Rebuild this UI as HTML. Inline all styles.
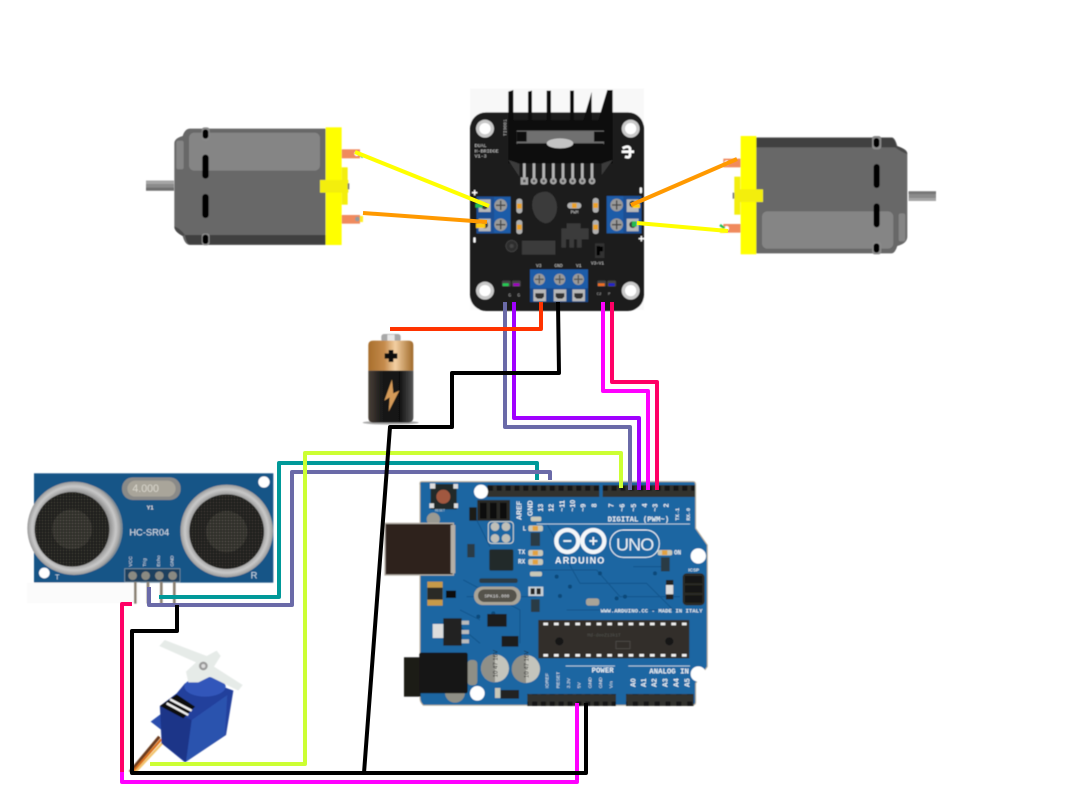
<!DOCTYPE html>
<html><head><meta charset="utf-8"><style>
html,body{margin:0;padding:0;background:#fff;width:1066px;height:800px;overflow:hidden}
svg{display:block}
text{font-family:"Liberation Sans",sans-serif}
.m{font-family:"Liberation Mono",monospace}
</style></head><body>
<svg width="1066" height="800" viewBox="0 0 1066 800" xmlns="http://www.w3.org/2000/svg">
<defs>
<filter id="b" x="-5%" y="-5%" width="110%" height="110%"><feGaussianBlur stdDeviation="1.5"/></filter>
<pattern id="mesh" width="9" height="9" patternUnits="userSpaceOnUse"><rect width="9" height="9" fill="#1c1c1a"/><circle cx="4.5" cy="4.5" r="2.6" fill="#3e3c36"/></pattern>
<pattern id="mesh2" width="9" height="9" patternUnits="userSpaceOnUse"><rect width="9" height="9" fill="#2a2926"/><circle cx="4.5" cy="4.5" r="2.6" fill="#55524a"/></pattern>
<pattern id="hdr" width="26.5" height="36" patternUnits="userSpaceOnUse"><rect width="26.5" height="36" fill="#33332e"/><rect x="6" y="11" width="15" height="15" fill="#151513"/></pattern>
<pattern id="hdr2" width="32.6" height="36" patternUnits="userSpaceOnUse"><rect width="32.6" height="36" fill="#33332e"/><rect x="9" y="11" width="15" height="15" fill="#151513"/></pattern>
<linearGradient id="cu" x1="0" x2="1" y1="0" y2="0"><stop offset="0" stop-color="#a86f2c"/><stop offset=".35" stop-color="#c48a4c"/><stop offset=".6" stop-color="#f3cfa2"/><stop offset="1" stop-color="#a06a2a"/></linearGradient>
<linearGradient id="bk" x1="0" x2="1" y1="0" y2="0"><stop offset="0" stop-color="#4a4038"/><stop offset=".3" stop-color="#1a1a1a"/><stop offset=".7" stop-color="#111"/><stop offset="1" stop-color="#555"/></linearGradient>
<radialGradient id="ring"><stop offset=".75" stop-color="#8a8a8a"/><stop offset=".9" stop-color="#c9c9c9"/><stop offset="1" stop-color="#9a9a9a"/></radialGradient>
</defs>

<!-- LEFT MOTOR -->
<g transform="translate(140,120) scale(.3333)" filter="url(#b)">
<rect x="18" y="182" width="84" height="30" fill="#8b8b8b"/><rect x="18" y="182" width="84" height="10" fill="#a5a5a5"/><rect x="18" y="203" width="84" height="9" fill="#6e6e6e"/>
<path d="M150 26H557V375H150Q135 375 128 348Q103 335 103 320V70Q103 55 128 48Q135 26 150 26Z" fill="#676767"/>
<path d="M135 345H557V373H150Q140 373 135 345Z" fill="#3f3f3f"/>
<path d="M103 320Q120 325 135 345L128 348Q103 335 103 320Z" fill="#4a4a4a"/>
<rect x="147" y="38" width="393" height="114" rx="16" fill="#858585"/>
<rect x="109" y="62" width="22" height="86" rx="6" fill="#858585"/>
<rect x="185" y="22" width="24" height="40" rx="8" fill="#8a8a8a"/><rect x="188" y="28" width="17" height="28" rx="8" fill="#000"/>
<rect x="185" y="340" width="24" height="36" rx="8" fill="#8a8a8a"/><rect x="188" y="344" width="17" height="28" rx="8" fill="#000"/>
<rect x="187" y="104" width="19" height="72" rx="9" fill="#000"/><rect x="187" y="222" width="19" height="72" rx="9" fill="#000"/>
<rect x="605" y="88" width="55" height="27" fill="#f08a5d"/><rect x="605" y="285" width="55" height="26" fill="#f08a5d"/>
<circle cx="650" cy="101" r="7" fill="#fff"/><circle cx="652" cy="297" r="7" fill="#999"/>
<rect x="660" y="288" width="9" height="18" fill="#ffee22"/>
<path d="M650 96L668 113" stroke="#22bb55" stroke-width="4"/>
<rect x="557" y="22" width="48" height="353" fill="#ffff00"/>
<rect x="540" y="180" width="85" height="38" fill="#f3ee10"/>
<rect x="605" y="142" width="18" height="112" fill="#f3ee10"/>
<rect x="623" y="190" width="5" height="18" fill="#777"/>
</g>

<!-- RIGHT MOTOR -->
<g transform="translate(720,130) scale(.3333)" filter="url(#b)">
<rect x="566" y="184" width="82" height="29" fill="#8b8b8b"/><rect x="566" y="184" width="82" height="8" fill="#767676"/><rect x="566" y="204" width="82" height="9" fill="#a5a5a5"/>
<path d="M108 22H515Q525 22 532 48Q562 58 562 70V320Q562 340 532 348Q525 370 515 370H108Z" fill="#676767"/>
<path d="M108 24H515Q525 26 530 52H108Z" fill="#3f3f3f"/>
<path d="M530 48Q560 58 562 72Q545 66 525 52Z" fill="#4a4a4a"/>
<rect x="126" y="244" width="394" height="112" rx="16" fill="#858585"/>
<rect x="536" y="250" width="20" height="84" rx="6" fill="#858585"/>
<rect x="456" y="18" width="28" height="40" rx="8" fill="#8a8a8a"/><rect x="461" y="24" width="17" height="28" rx="8" fill="#000"/>
<rect x="456" y="335" width="28" height="38" rx="8" fill="#8a8a8a"/><rect x="461" y="340" width="17" height="28" rx="8" fill="#000"/>
<rect x="461" y="102" width="18" height="72" rx="9" fill="#000"/><rect x="461" y="220" width="18" height="72" rx="9" fill="#000"/>
<rect x="10" y="86" width="52" height="26" fill="#f08a5d"/><rect x="10" y="282" width="52" height="26" fill="#f08a5d"/>
<circle cx="20" cy="98" r="7" fill="#fff"/><circle cx="20" cy="295" r="7" fill="#fff"/>
<path d="M0 285L14 295" stroke="#22bb55" stroke-width="7"/><rect x="0" y="295" width="14" height="14" fill="#ffee22"/>
<rect x="62" y="18" width="47" height="355" fill="#ffff00"/>
<rect x="45" y="178" width="84" height="38" fill="#f3ee10"/>
<rect x="43" y="140" width="18" height="114" fill="#f3ee10"/>
<rect x="38" y="188" width="5" height="18" fill="#777"/>
</g>

<!-- L298N -->
<g transform="translate(460,80) scale(.3333)" filter="url(#b)">
<rect x="30" y="26" width="522" height="664" fill="#f8f8f8"/>
<rect x="30" y="97" width="522" height="596" rx="48" fill="#1e1e1e"/>
<rect x="145" y="120" width="312" height="30" fill="#0a0a0a"/>
<path d="M145 35L160 30V120H145ZM204 35L216 32V120H204ZM260 32H273V120H260ZM330 32H342V120H330ZM370 120L395 36V120ZM415 120L442 30H458V120Z" fill="#0c0c0c"/>
<path d="M145 120H172V250H145ZM430 120H458V250H430Z" fill="#0a0a0a"/>
<path d="M145 240L178 290V250ZM458 240L425 285V250Z" fill="#3b3b3b"/>
<rect x="170" y="152" width="262" height="40" fill="#707070"/>
<rect x="172" y="190" width="258" height="60" fill="#0c0c0c"/>
<ellipse cx="300" cy="190" rx="40" ry="15" fill="#c4c4c4"/>
<path d="M170 155h30v30h-30zM402 155h30v30h-30z" fill="#111"/>
<g stroke="#b5b5b5" stroke-width="8" fill="none"><path d="M193 250V300M222 250V300M251 250V300M280 250V300M309 250V300M338 250V300M367 250V300M396 250V300"/></g>
<g fill="#a6a6a6"><rect x="182" y="292" width="22" height="22"/><circle cx="222" cy="303" r="10"/><circle cx="251" cy="303" r="10"/><circle cx="280" cy="303" r="10"/><circle cx="309" cy="303" r="10"/><circle cx="338" cy="303" r="10"/><circle cx="367" cy="303" r="10"/><circle cx="396" cy="303" r="10"/></g>
<g fill="#555" ><circle cx="222" cy="303" r="4"/><circle cx="251" cy="303" r="4"/><circle cx="280" cy="303" r="4"/><circle cx="309" cy="303" r="4"/><circle cx="338" cy="303" r="4"/><circle cx="367" cy="303" r="4"/><circle cx="396" cy="303" r="4"/><rect x="189" y="299" width="8" height="8"/></g>
<g fill="#c9c9c9"><circle cx="75" cy="146" r="27"/><circle cx="512" cy="146" r="27"/><circle cx="75" cy="632" r="27"/><circle cx="512" cy="632" r="27"/></g>
<g fill="#fff"><circle cx="75" cy="146" r="17"/><circle cx="512" cy="146" r="17"/><circle cx="75" cy="632" r="17"/><circle cx="512" cy="632" r="17"/></g>
<text class="m" x="44" y="201" font-size="15" fill="#ccc">DUAL</text><text class="m" x="44" y="217" font-size="15" fill="#ccc">H-BRIDGE</text><text class="m" x="44" y="233" font-size="15" fill="#ccc">V1-3</text>
<text class="m" transform="translate(139,168) rotate(-90)" font-size="14" fill="#bbb">TI9001</text>
<path d="M488 205Q505 195 510 205V225Q510 235 495 230M485 215H522" stroke="#fff" stroke-width="8" fill="none"/>
<path d="M256 335A34 46 0 0 1 256 430A48 48 0 0 1 222 400A60 60 0 0 1 222 350Q235 335 256 335Z" fill="#3b3b3b"/>
<rect x="322" y="368" width="42" height="18" rx="9" fill="#b0b0b0"/><rect x="336" y="370" width="14" height="14" fill="#eba227"/>
<text class="m" x="332" y="400" font-size="13" fill="#ccc">PWM</text>
<g fill="#b0b0b0"><rect x="169" y="356" width="18" height="44" rx="8"/><rect x="169" y="420" width="18" height="42" rx="8"/><rect x="398" y="354" width="18" height="44" rx="8"/><rect x="398" y="420" width="18" height="42" rx="8"/></g>
<g fill="#eba227"><rect x="171" y="371" width="14" height="15"/><rect x="171" y="434" width="14" height="15"/><rect x="400" y="369" width="14" height="15"/><rect x="400" y="434" width="14" height="15"/></g>
<path d="M320 445V430H362V445H386V478H365V503H351V478H342V503H328V478H318V503H304V445Z" fill="#3b3b3b"/>
<rect x="186" y="482" width="100" height="42" fill="#3b3b3b"/>
<circle cx="155" cy="498" r="17" fill="#2d2d2d" stroke="#3f3f3f" stroke-width="3"/><circle cx="155" cy="498" r="6" fill="#444"/>
<rect x="405" y="490" width="28" height="44" fill="#333"/><rect x="410" y="498" width="10" height="28" fill="#000"/><rect x="420" y="500" width="9" height="14" fill="#000"/>
<text class="m" x="393" y="554" font-size="13" fill="#ccc">V3=V1</text>
<!-- left terminal -->
<rect x="50" y="350" width="102" height="110" fill="#1d5ba8"/><rect x="50" y="350" width="52" height="110" fill="#1a4f94"/>
<rect x="56" y="358" width="36" height="38" fill="#b8b8b8"/><rect x="56" y="416" width="36" height="38" fill="#b8b8b8"/>
<circle cx="74" cy="378" r="10" fill="#3a3a3a"/><circle cx="74" cy="435" r="10" fill="#3a3a3a"/>
<circle cx="122" cy="376" r="19" fill="#9a9a9a"/><circle cx="122" cy="434" r="19" fill="#9a9a9a"/>
<path d="M122 362V390M108 376H136M122 420V448M108 434H136" stroke="#444" stroke-width="4"/>
<rect x="46" y="371" width="22" height="12" fill="#22bb55"/><rect x="48" y="430" width="28" height="14" fill="#ffcc11"/>
<!-- right terminal -->
<rect x="440" y="348" width="104" height="112" fill="#1d5ba8"/><rect x="490" y="348" width="54" height="112" fill="#1a4f94"/>
<rect x="500" y="358" width="36" height="38" fill="#b8b8b8"/><rect x="500" y="416" width="36" height="38" fill="#b8b8b8"/>
<circle cx="518" cy="372" r="10" fill="#3a3a3a"/><circle cx="518" cy="434" r="10" fill="#3a3a3a"/>
<circle cx="470" cy="375" r="19" fill="#9a9a9a"/><circle cx="470" cy="434" r="19" fill="#9a9a9a"/>
<path d="M470 361V389M456 375H484M470 420V448M456 434H484" stroke="#444" stroke-width="4"/>
<rect x="518" y="372" width="22" height="12" fill="#ffcc11"/><rect x="516" y="424" width="14" height="16" fill="#22bb55"/>
<path d="M36 338H52M44 330V346M536 476H552M544 468V484" stroke="#fff" stroke-width="4"/>
<rect x="40" y="472" width="7" height="16" rx="3" fill="#fff"/><rect x="539" y="322" width="7" height="18" rx="3" fill="#fff"/>
<!-- bottom terminal -->
<rect x="210" y="568" width="174" height="98" fill="#1d5ba8"/><rect x="210" y="625" width="174" height="41" fill="#18498a"/>
<g fill="#9a9a9a"><circle cx="238" cy="598" r="17"/><circle cx="299" cy="598" r="17"/><circle cx="355" cy="598" r="17"/></g>
<path d="M238 585V611M225 598H251M299 585V611M286 598H312M355 585V611M342 598H368" stroke="#555" stroke-width="4"/>
<g fill="#b8b8b8"><rect x="220" y="628" width="38" height="36"/><rect x="281" y="628" width="38" height="36"/><rect x="337" y="628" width="38" height="36"/></g>
<g fill="#333"><path d="M226 650V640H252V650L246 656H232Z"/><path d="M287 650V640H313V650L307 656H293Z"/><path d="M343 650V640H369V650L363 656H349Z"/></g>
<text class="m" x="228" y="561" font-size="14" fill="#ccc">V3</text><text class="m" x="283" y="561" font-size="14" fill="#ccc">GND</text><text class="m" x="348" y="561" font-size="14" fill="#ccc">V1</text>
<g fill="#444"><rect x="126" y="602" width="26" height="18" rx="3"/><rect x="156" y="602" width="26" height="18" rx="3"/><rect x="412" y="602" width="26" height="18" rx="3"/><rect x="442" y="602" width="26" height="18" rx="3"/></g>
<rect x="128" y="610" width="18" height="8" fill="#22cc55"/><rect x="160" y="610" width="18" height="8" fill="#a000c0"/><rect x="414" y="610" width="20" height="8" fill="#f07020"/><rect x="446" y="610" width="18" height="8" fill="#2222cc"/>
<text class="m" x="145" y="650" font-size="14" fill="#aaa">G</text><text class="m" x="172" y="650" font-size="14" fill="#aaa">G</text><text class="m" x="410" y="645" font-size="12" fill="#aaa">C2</text><text class="m" x="444" y="645" font-size="12" fill="#aaa">P</text>
</g>

<!-- BATTERY -->
<g transform="translate(350,310) scale(.3333)" filter="url(#b)">
<ellipse cx="122" cy="338" rx="84" ry="6" fill="#aaa"/>
<rect x="94" y="72" width="58" height="24" rx="8" fill="#a8a8a8"/><rect x="112" y="74" width="22" height="20" fill="#e8e8e8"/>
<path d="M55 182V105Q55 92 70 92H175Q190 92 190 105V182Z" fill="url(#cu)"/>
<path d="M55 182H190V322Q190 338 172 338H72Q55 338 55 322Z" fill="url(#bk)"/>
<path d="M116 120H130V130H142V146H130V156H116V146H104V130H116Z" fill="#111"/>
<path d="M126 208L103 272L119 262L116 305L148 242L130 250Z" fill="#d49a58"/>
</g>

<!-- ULTRASONIC + SERVO -->
<g transform="translate(20,450) scale(.3333)" filter="url(#b)">
<rect x="42" y="70" width="718" height="328" fill="#175487"/>
<rect x="20" y="398" width="340" height="62" fill="#fbfbfb"/>
<rect x="306" y="82" width="176" height="68" rx="32" fill="#8a8a88"/><rect x="322" y="92" width="145" height="48" rx="24" fill="#a9a59a"/>
<text x="337" y="126" font-size="32" fill="#d9d6cc">4.000</text>
<text x="380" y="178" font-size="17" font-weight="bold" fill="#e4e4e4">Y1</text>
<text x="328" y="257" font-size="28" fill="#d7e1ea">HC-SR04</text>
<ellipse cx="178" cy="235" rx="130" ry="135" fill="#7f8c96"/>
<circle cx="162" cy="235" r="140" fill="url(#ring)"/><circle cx="156" cy="238" r="112" fill="url(#mesh)"/><circle cx="156" cy="238" r="60" fill="url(#mesh2)"/>
<circle cx="620" cy="243" r="139" fill="url(#ring)"/><circle cx="620" cy="245" r="112" fill="url(#mesh)"/><circle cx="620" cy="245" r="62" fill="url(#mesh2)"/>
<circle cx="73" cy="369" r="16" fill="#fff"/><circle cx="732" cy="96" r="17" fill="#fff"/>
<text x="692" y="386" font-size="28" fill="#c9d8e4">R</text>
<text x="105" y="388" font-size="22" fill="#c9d8e4">T</text>
<rect x="314" y="356" width="166" height="40" fill="#1b3f5e" stroke="#8da0ad" stroke-width="2"/>
<g fill="#8a8a82"><circle cx="338" cy="377" r="13"/><circle cx="377" cy="377" r="13"/><circle cx="418" cy="377" r="13"/><circle cx="458" cy="377" r="13"/></g>
<g fill="#8a8072"><rect x="342" y="396" width="8" height="65"/><rect x="380" y="396" width="8" height="65"/><rect x="420" y="396" width="8" height="65"/><rect x="459" y="396" width="8" height="65"/></g>
<g font-size="15" fill="#dfe6ec"><text transform="translate(336,350) rotate(-90)">VCC</text><text transform="translate(378,350) rotate(-90)">Trig</text><text transform="translate(420,350) rotate(-90)">Echo</text><text transform="translate(461,350) rotate(-90)">GND</text></g>
<!-- servo -->
<path d="M330 966L418 860" stroke="#6b3a1a" stroke-width="9"/><path d="M338 966L424 868" stroke="#d9701a" stroke-width="7"/><path d="M346 966L430 876" stroke="#f2c36b" stroke-width="7"/>
<path d="M392 815L425 790L480 830L450 860Z" fill="#2a4ead"/>
<path d="M420 768L470 730L495 700L555 690L640 722L618 855L495 937L425 880Z" fill="#243f9c"/>
<path d="M420 768L515 810L498 935L425 880Z" fill="#1c3488"/>
<path d="M515 810L622 735L615 855L498 935Z" fill="#2c52ae"/>
<path d="M420 768L470 733L525 770L490 805Z" fill="#111"/>
<path d="M450 748L515 782M440 760L505 795" stroke="#f0f0f0" stroke-width="7"/>
<ellipse cx="555" cy="710" rx="62" ry="30" fill="#3257ba"/>
<path d="M418 588L434 570L560 618L590 602L602 618L582 650L668 705L655 722L570 680L535 697H505L498 665L528 637Z" fill="#e6ebe8"/>
<circle cx="550" cy="648" r="13" fill="#999"/><circle cx="550" cy="648" r="6" fill="#ddd"/>
</g>

<!-- ARDUINO -->
<g transform="translate(380,470) scale(.3333)" filter="url(#b)">
<path d="M125 35H940Q947 35 947 45V175L982 225V590L947 640V697Q947 706 935 706H130Q120 697 120 685V45Q118 35 125 35Z" fill="#1a66a2" stroke="#bdb49f" stroke-width="3"/>
<g stroke="#14558c" stroke-width="3" fill="none"><path d="M250 330L420 420V520M260 380L470 380M600 340H800L880 420M240 420L300 450M470 300H650L720 380H900M280 130L330 230M500 160L600 340M760 290L850 290"/><path d="M240 470L300 520M560 420H900"/></g>
<g fill="#0e4a7a"><circle cx="530" cy="320" r="6"/><circle cx="570" cy="350" r="6"/><circle cx="660" cy="310" r="6"/><circle cx="710" cy="385" r="6"/><circle cx="825" cy="310" r="6"/><circle cx="340" cy="430" r="6"/><circle cx="540" cy="378" r="6"/><circle cx="295" cy="440" r="6"/><circle cx="735" cy="380" r="6"/></g>
<rect x="322" y="45" width="336" height="36" fill="url(#hdr)"/><rect x="668" y="45" width="277" height="36" fill="url(#hdr)"/>
<rect x="442" y="672" width="266" height="36" fill="url(#hdr)"/><rect x="738" y="672" width="203" height="36" fill="url(#hdr2)"/>
<rect x="152" y="42" width="78" height="76" fill="#23292c"/><circle cx="190" cy="80" r="21" fill="#a1583f"/>
<rect x="150" y="40" width="16" height="16" fill="#ddd"/><rect x="220" y="42" width="14" height="14" fill="#ddd"/><rect x="148" y="100" width="14" height="14" fill="#ddd"/><rect x="222" y="100" width="12" height="14" fill="#ddd"/>
<text class="m" x="165" y="124" font-size="10" fill="#ddd">RESET</text>
<rect x="292" y="90" width="98" height="62" fill="#2c2c28"/><g fill="#111"><rect x="300" y="98" width="20" height="48"/><rect x="330" y="98" width="20" height="48"/><rect x="360" y="98" width="20" height="48"/></g>
<rect x="268" y="112" width="22" height="40" fill="#1a1a18"/>
<g fill="#bfbfb8"><circle cx="345" cy="170" r="13"/><circle cx="378" cy="170" r="13"/><circle cx="345" cy="205" r="13"/><circle cx="378" cy="205" r="13"/></g>
<rect x="325" y="155" width="75" height="65" rx="10" fill="none" stroke="#d8d8d0" stroke-width="3"/>
<circle cx="303" cy="65" r="21" fill="#fff"/><circle cx="955" cy="258" r="23" fill="#fff"/><circle cx="955" cy="612" r="23" fill="#fff"/><circle cx="292" cy="670" r="22" fill="#fff"/>
<circle cx="160" cy="148" r="20" fill="#9a9a92"/>
<rect x="15" y="160" width="205" height="155" fill="#2d221e" stroke="#b5afa6" stroke-width="4"/><rect x="212" y="165" width="14" height="145" fill="#b5afa6"/>
<circle cx="225" cy="668" r="30" fill="#8f8f86"/>
<rect x="262" y="570" width="30" height="76" rx="12" fill="#8f8f86"/>
<rect x="72" y="562" width="50" height="118" fill="#1e1c18"/><rect x="118" y="548" width="145" height="122" rx="6" fill="#151512"/>
<rect x="142" y="335" width="46" height="72" fill="#c79a4a"/><rect x="142" y="353" width="46" height="36" fill="#2c2c28"/>
<rect x="198" y="362" width="30" height="22" fill="#111"/>
<rect x="190" y="445" width="55" height="82" fill="#222"/><rect x="158" y="462" width="32" height="42" fill="#ddd"/><rect x="245" y="452" width="22" height="12" fill="#bbb"/><rect x="245" y="480" width="22" height="12" fill="#bbb"/><rect x="245" y="508" width="22" height="12" fill="#bbb"/>
<rect x="328" y="238" width="72" height="64" rx="5" fill="#22292c"/>
<rect x="282" y="350" width="140" height="55" rx="26" fill="#a9a498"/><rect x="294" y="358" width="116" height="38" rx="19" fill="#55524c"/>
<text class="m" x="313" y="383" font-size="14" fill="#ddd">SPK16.000</text>
<rect x="298" y="325" width="115" height="14" rx="6" fill="#2b3a45"/>
<rect x="445" y="350" width="45" height="28" fill="#ddd" opacity=".9"/><rect x="452" y="355" width="12" height="18" fill="#222"/><rect x="470" y="355" width="12" height="18" fill="#222"/>
<rect x="618" y="385" width="40" height="22" rx="8" fill="#a9a498"/>
<rect x="322" y="432" width="58" height="38" fill="#1a1a1a"/>
<rect x="365" y="498" width="50" height="32" fill="#1a1a1a"/>
<rect x="858" y="330" width="22" height="58" fill="#222"/><rect x="858" y="345" width="22" height="28" fill="#ddd"/>
<g fill="#c9c8b8"><rect x="445" y="166" width="44" height="18" rx="6"/><rect x="445" y="240" width="44" height="18" rx="6"/><rect x="445" y="267" width="44" height="18" rx="6"/><rect x="833" y="240" width="44" height="16" rx="6"/><rect x="452" y="140" width="32" height="14" rx="5"/><rect x="450" y="305" width="36" height="14" rx="5"/></g>
<g fill="#e2a240"><rect x="458" y="168" width="16" height="14"/><rect x="458" y="242" width="16" height="14"/><rect x="458" y="269" width="16" height="14"/><rect x="846" y="241" width="16" height="14"/></g>
<g fill="#2b3a45"><rect x="452" y="188" width="28" height="40"/><rect x="843" y="262" width="26" height="42"/><rect x="453" y="388" width="26" height="38"/><rect x="262" y="222" width="22" height="40"/></g>
<rect x="908" y="310" width="66" height="96" rx="12" fill="#2b2b27"/><g fill="#141412"><rect x="915" y="318" width="52" height="22"/><rect x="915" y="346" width="52" height="22"/><rect x="915" y="376" width="52" height="22"/></g>
<text x="925" y="305" font-size="14" font-weight="bold" fill="#dfe8ee">ICSP</text>
<rect x="475" y="450" width="453" height="115" fill="#302f2c"/>
<g fill="#fff" opacity=".95"><rect x="490" y="458" width="14" height="8"/><rect x="522" y="458" width="14" height="8"/><rect x="554" y="458" width="14" height="8"/><rect x="586" y="458" width="14" height="8"/><rect x="618" y="458" width="14" height="8"/><rect x="650" y="458" width="14" height="8"/><rect x="682" y="458" width="14" height="8"/><rect x="714" y="458" width="14" height="8"/><rect x="746" y="458" width="14" height="8"/><rect x="778" y="458" width="14" height="8"/><rect x="810" y="458" width="14" height="8"/><rect x="842" y="458" width="14" height="8"/><rect x="874" y="458" width="14" height="8"/><rect x="906" y="458" width="14" height="8"/>
<rect x="490" y="552" width="14" height="8"/><rect x="522" y="552" width="14" height="8"/><rect x="554" y="552" width="14" height="8"/><rect x="586" y="552" width="14" height="8"/><rect x="618" y="552" width="14" height="8"/><rect x="650" y="552" width="14" height="8"/><rect x="682" y="552" width="14" height="8"/><rect x="714" y="552" width="14" height="8"/><rect x="746" y="552" width="14" height="8"/><rect x="778" y="552" width="14" height="8"/><rect x="810" y="552" width="14" height="8"/><rect x="842" y="552" width="14" height="8"/><rect x="874" y="552" width="14" height="8"/><rect x="906" y="552" width="14" height="8"/></g>
<circle cx="538" cy="514" r="12" fill="#191917"/><circle cx="868" cy="514" r="12" fill="#191917"/>
<text class="m" x="622" y="500" font-size="14" fill="#55534e">Md-deeZ13k1T</text>
<rect x="708" y="514" width="42" height="22" fill="none" stroke="#55534e" stroke-width="2"/>
<circle cx="345" cy="595" r="42" fill="#c4c4bc"/><path d="M315 566A42 42 0 0 1 345 553V637A42 42 0 0 1 315 566Z" fill="#8f8f88"/><circle cx="438" cy="597" r="42" fill="#c4c4bc"/><path d="M405 570A42 42 0 0 1 438 555V639A42 42 0 0 1 405 570Z" fill="#8f8f88"/>
<text transform="translate(352,622) rotate(-90)" font-size="18" fill="#222">10 47 16V</text><text transform="translate(445,624) rotate(-90)" font-size="18" fill="#222">10 47 16V</text>
<rect x="362" y="660" width="55" height="26" fill="#222"/><rect x="345" y="654" width="16" height="30" fill="#c9c8b8"/>
<g fill="none" stroke="#f4f7f9" stroke-width="13"><circle cx="562" cy="213" r="33"/><circle cx="640" cy="213" r="33"/></g>
<path d="M550 213H574M628 213H652M640 201V225" stroke="#f4f7f9" stroke-width="5"/>
<rect x="690" y="180" width="148" height="82" rx="40" fill="none" stroke="#f4f7f9" stroke-width="3"/>
<text x="708" y="241" font-size="54" fill="#e8eff4" textLength="115">UNO</text>
<text x="525" y="281" font-size="27" font-weight="bold" fill="#f4f7f9" textLength="148">ARDUINO</text>
<g font-size="22" font-weight="bold" fill="#eef3f6">
<text class="m" x="683" y="155">DIGITAL (PWM~)</text>
<text class="m" x="882" y="253" font-size="18">ON</text><text class="m" x="414" y="252" font-size="18">TX</text><text class="m" x="414" y="280" font-size="18">RX</text><text class="m" x="428" y="182" font-size="18">L</text>
<text class="m" x="635" y="608">POWER</text><text class="m" x="808" y="610">ANALOG IN</text>
<g class="m" font-family="Liberation Mono" font-size="21">
<text transform="translate(424,150) rotate(-90)">AREF</text><text transform="translate(457,138) rotate(-90)">GND</text><text transform="translate(489,125) rotate(-90)">13</text><text transform="translate(521,125) rotate(-90)">12</text><text transform="translate(553,125) rotate(-90)">~11</text><text transform="translate(585,125) rotate(-90)">~10</text><text transform="translate(616,125) rotate(-90)">~9</text><text transform="translate(649,112) rotate(-90)">8</text>
<text transform="translate(701,112) rotate(-90)">7</text><text transform="translate(734,125) rotate(-90)">~6</text><text transform="translate(768,125) rotate(-90)">~5</text><text transform="translate(801,112) rotate(-90)">4</text><text transform="translate(833,125) rotate(-90)">~3</text><text transform="translate(866,112) rotate(-90)">2</text></g>
<text class="m" font-size="16" transform="translate(897,152) rotate(-90)">TX→1</text><text class="m" font-size="16" transform="translate(930,152) rotate(-90)">RX←0</text>
<g class="m" font-family="Liberation Mono" font-size="21">
<text transform="translate(766,652) rotate(-90)">A0</text><text transform="translate(798,652) rotate(-90)">A1</text><text transform="translate(830,652) rotate(-90)">A2</text><text transform="translate(863,652) rotate(-90)">A3</text><text transform="translate(895,652) rotate(-90)">A4</text><text transform="translate(928,652) rotate(-90)">A5</text></g>
</g>
<g font-size="15" fill="#e8eef2">
<text transform="translate(506,655) rotate(-90)">IOREF</text><text transform="translate(538,655) rotate(-90)">RESET</text><text transform="translate(570,655) rotate(-90)">3.3V</text><text transform="translate(602,655) rotate(-90)">5V</text><text transform="translate(634,655) rotate(-90)">GND</text><text transform="translate(666,655) rotate(-90)">GND</text><text transform="translate(698,655) rotate(-90)">Vin</text>
</g>
<text class="m" x="662" y="428" font-size="17" font-weight="bold" fill="#e8eef2">WWW.ARDUINO.CC - MADE IN ITALY</text>
<path d="M470 162H930M557 588H705M745 588H930" stroke="#dfe8ee" stroke-width="2"/>
</g>

<!-- WIRES -->
<g fill="none" stroke-width="4" stroke-linejoin="round">
<path d="M355 152L489 206" stroke="#ffff00"/>
<path d="M363 213L487 222" stroke="#ff9900"/>
<path d="M631 205L737 159" stroke="#ff9900"/>
<path d="M637 223L728 231" stroke="#ffff00"/>
<path d="M505 302V427H630V490" stroke="#6a6aa8"/>
<path d="M514 302V418H639V490" stroke="#a000ff"/>
<path d="M603 302V391H648V490" stroke="#ff00ff"/>
<path d="M612 302V382H657V490" stroke="#ff0066"/>
<path d="M159 597H279V463H537V480" stroke="#009999"/>
<path d="M149 587V605H292V472H550V480" stroke="#6a6aa8"/>
<path d="M150 764H305V453H621V488" stroke="#ccff33"/>
<path d="M390 329H541V302" stroke="#ff3300"/>
<path d="M132 604H122V772" stroke="#ff0066"/>
<path d="M122 772V782H577V703" stroke="#ff00ff"/>
<path d="M177 605V631H132V773H586V703" stroke="#000"/>
<path d="M558 302L559 373H452V427H390L364 773" stroke="#000"/>
</g>
</svg>
</body></html>
